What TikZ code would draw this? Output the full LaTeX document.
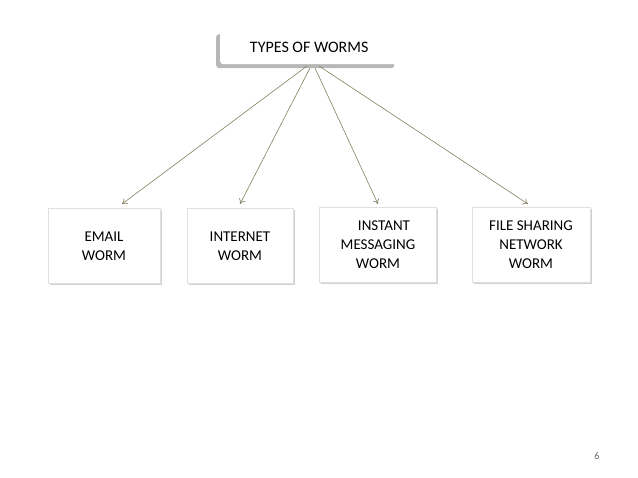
\documentclass[tikz,border=0pt]{standalone}
\usepackage{fontspec}
\setmainfont{Carlito}
\usetikzlibrary{shadows,arrows.meta}
\begin{document}
\begin{tikzpicture}[x=1pt,y=-1pt,
  wbox/.style={draw=black!12,fill=white,minimum height=75pt,align=center,font=\fontsize{15}{19}\selectfont,inner sep=2pt,
    drop shadow={shadow xshift=1.5pt,shadow yshift=-1.5pt,fill=black!30,opacity=0.6}},
  conn/.style={draw=black!60!olive!70,line width=0.6pt,-{To[length=5pt,width=7pt]}}]
\useasboundingbox (0,0) rectangle (638,478);
\node[draw=none,fill=white,rounded corners=3pt,minimum width=178pt,minimum height=34pt,anchor=north west,
  font=\fontsize{16}{19}\selectfont,text depth=0pt,
  drop shadow={shadow xshift=-4pt,shadow yshift=-4pt,fill=black!40,opacity=0.7}] (top) at (220,30) {TYPES OF WORMS};
\node[wbox,minimum width=112pt] (email) at (104,246) {EMAIL\\WORM};
\node[wbox,minimum width=106pt] (inet) at (240,246) {INTERNET\\WORM};
\node[wbox,minimum width=117pt] (im) at (378,245) {\hspace*{12pt}INSTANT\\MESSAGING\\WORM};
\node[wbox,minimum width=118pt] (fs) at (531,245) {FILE SHARING\\NETWORK\\WORM};
\coordinate (s1) at (307,66);
\coordinate (s2) at (310,68);
\coordinate (s3) at (315,68);
\coordinate (s4) at (319,66);
\coordinate (e1) at (122,204);
\coordinate (e2) at (240,204);
\coordinate (e3) at (378,204);
\coordinate (e4) at (528,204);
\draw[conn] (s1) -- (e1);
\draw[conn] (s2) -- (e2);
\draw[conn] (s3) -- (e3);
\draw[conn] (s4) -- (e4);
\node[font=\fontsize{10}{12}\selectfont,text=black!60] (pg) at (597,456) {6};
\end{tikzpicture}
\end{document}
